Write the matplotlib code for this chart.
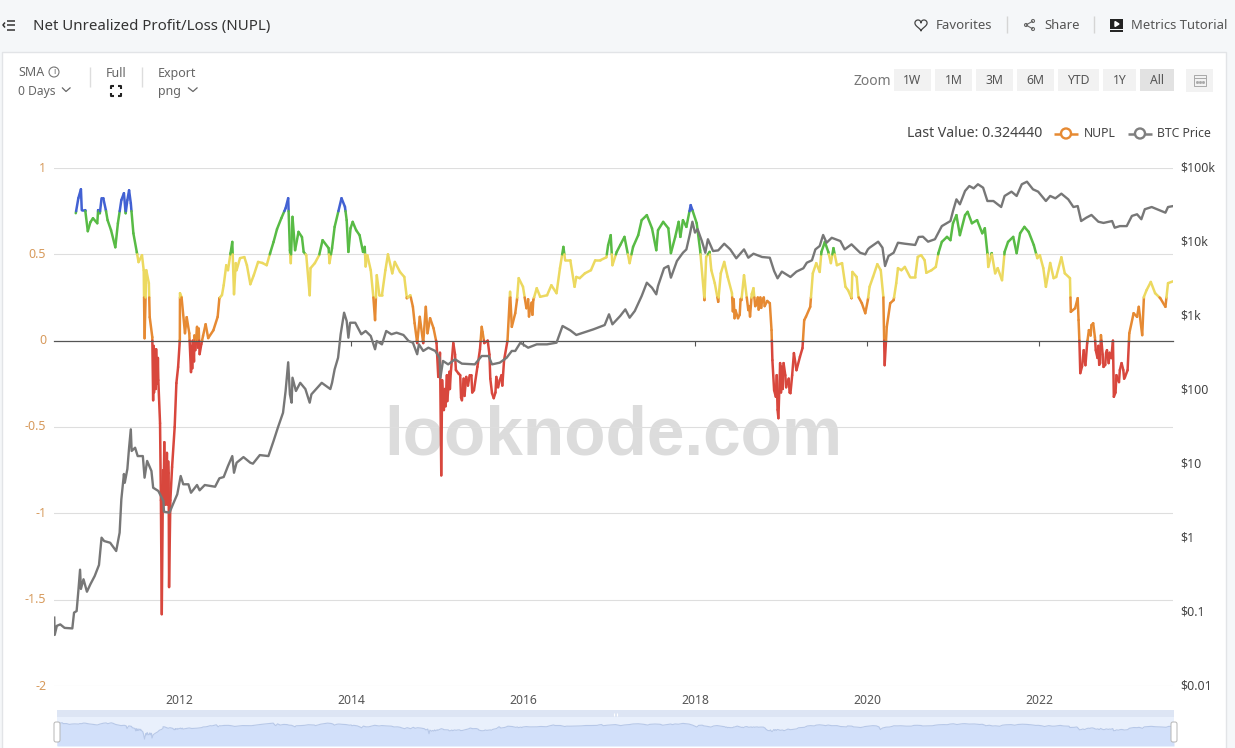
import numpy as np
import matplotlib
matplotlib.use("Agg")
import matplotlib.pyplot as plt
from matplotlib.collections import LineCollection
from matplotlib.patches import Rectangle, FancyBboxPatch, Circle
from matplotlib.transforms import ScaledTranslation

# ---------- data ----------
nupl_years = [2010.80,2010.83,2010.86,2010.87,2010.91,2010.94,2010.97,2011.00,2011.05,2011.06,2011.08,2011.10,2011.12,2011.15,2011.17,2011.21,2011.26,2011.29,2011.33,2011.36,2011.38,2011.40,2011.42,2011.44,2011.47,2011.51,2011.53,2011.57,2011.59,2011.60,2011.62,2011.65,2011.66,2011.69,2011.70,2011.72,2011.76,2011.78,2011.79,2011.80,2011.83,2011.85,2011.88,2011.885,2011.90,2011.92,2011.95,2011.97,2011.99,2012.01,2012.012,2012.03,2012.07,2012.09,2012.12,2012.14,2012.16,2012.19,2012.21,2012.24,2012.28,2012.31,2012.34,2012.40,2012.45,2012.47,2012.50,2012.52,2012.55,2012.57,2012.60,2012.62,2012.64,2012.66,2012.67,2012.71,2012.76,2012.79,2012.83,2012.87,2012.92,2012.97,2013.02,2013.06,2013.10,2013.14,2013.19,2013.24,2013.27,2013.29,2013.30,2013.32,2013.35,2013.39,2013.43,2013.45,2013.48,2013.52,2013.53,2013.58,2013.63,2013.67,2013.74,2013.75,2013.78,2013.81,2013.89,2013.93,2013.95,2013.97,2013.995,2014.02,2014.06,2014.10,2014.14,2014.16,2014.17,2014.19,2014.23,2014.26,2014.28,2014.30,2014.33,2014.36,2014.40,2014.43,2014.48,2014.51,2014.57,2014.62,2014.65,2014.69,2014.72,2014.74,2014.77,2014.80,2014.84,2014.87,2014.89,2014.92,2014.96,2014.995,2015.015,2015.035,2015.05,2015.06,2015.08,2015.13,2015.16,2015.19,2015.25,2015.29,2015.34,2015.38,2015.43,2015.47,2015.52,2015.55,2015.59,2015.64,2015.66,2015.69,2015.73,2015.78,2015.82,2015.85,2015.87,2015.91,2015.93,2015.95,2016.00,2016.04,2016.08,2016.12,2016.16,2016.20,2016.28,2016.33,2016.39,2016.43,2016.47,2016.49,2016.55,2016.60,2016.62,2016.66,2016.72,2016.79,2016.84,2016.90,2016.97,2016.99,2017.02,2017.04,2017.09,2017.13,2017.18,2017.24,2017.28,2017.34,2017.38,2017.44,2017.50,2017.55,2017.57,2017.63,2017.69,2017.72,2017.77,2017.81,2017.83,2017.86,2017.90,2017.95,2017.97,2018.02,2018.06,2018.11,2018.13,2018.17,2018.19,2018.23,2018.27,2018.30,2018.34,2018.38,2018.43,2018.47,2018.50,2018.54,2018.57,2018.62,2018.68,2018.71,2018.78,2018.87,2018.89,2018.90,2018.92,2018.94,2018.97,2018.99,2019.03,2019.07,2019.11,2019.15,2019.18,2019.22,2019.25,2019.27,2019.29,2019.34,2019.37,2019.41,2019.45,2019.47,2019.51,2019.55,2019.58,2019.61,2019.65,2019.71,2019.75,2019.78,2019.82,2019.83,2019.88,2019.90,2019.94,2019.98,2020.01,2020.03,2020.07,2020.12,2020.16,2020.19,2020.205,2020.23,2020.27,2020.31,2020.34,2020.36,2020.40,2020.44,2020.50,2020.56,2020.59,2020.63,2020.67,2020.69,2020.75,2020.80,2020.83,2020.87,2020.93,2020.97,2021.00,2021.04,2021.08,2021.14,2021.17,2021.22,2021.28,2021.34,2021.37,2021.40,2021.41,2021.45,2021.49,2021.52,2021.57,2021.60,2021.64,2021.70,2021.74,2021.78,2021.83,2021.88,2021.94,2021.98,2022.01,2022.05,2022.08,2022.13,2022.17,2022.20,2022.26,2022.30,2022.36,2022.37,2022.42,2022.45,2022.46,2022.47,2022.48,2022.52,2022.54,2022.56,2022.58,2022.63,2022.66,2022.71,2022.72,2022.75,2022.79,2022.84,2022.86,2022.87,2022.92,2022.96,2023.00,2023.03,2023.05,2023.10,2023.14,2023.16,2023.20,2023.22,2023.25,2023.30,2023.35,2023.41,2023.47,2023.50,2023.56]
nupl_values = [.738,.825,.877,.756,.756,.634,.686,.709,.680,.756,.738,.825,.825,.756,.698,.640,.541,.680,.814,.854,.738,.814,.871,.796,.622,.512,.455,.495,.408,.014,.408,.333,.136,.020,-.345,-.246,-.229,-.478,-.924,-1.584,-.588,-.883,-.767,-1.427,-.924,-.732,-.501,-.246,-.153,.003,.275,.252,.043,.136,.043,-.182,0,-.055,.08,-.078,.028,.095,.015,.06,.138,.246,.264,.321,.437,.408,.507,.572,.269,.449,.408,.478,.484,.437,.327,.379,.456,.45,.437,.507,.572,.646,.709,.767,.825,.524,.449,.717,.524,.63,.60,.514,.495,.263,.42,.449,.495,.582,.536,.449,.536,.659,.825,.775,.698,.514,.651,.688,.64,.611,.514,.543,.43,.495,.408,.254,.119,.379,.263,.263,.408,.50,.39,.456,.398,.369,.246,.263,.196,.101,-.014,.138,-.014,.196,.043,.13,.072,-.014,-.21,-.07,-.78,-.229,-.402,-.287,-.19,-.014,-.19,-.345,-.21,-.2,-.287,-.152,.08,-.014,0,-.304,-.333,-.21,-.229,-.113,0,.283,.08,.159,.235,.362,.312,.188,.177,.235,.304,.254,.263,.321,.275,.42,.543,.466,.466,.312,.369,.362,.39,.408,.466,.466,.483,.553,.611,.437,.514,.553,.601,.449,.543,.611,.698,.727,.651,.524,.64,.688,.651,.507,.601,.688,.601,.698,.659,.785,.756,.68,.524,.235,.485,.514,.408,.333,.225,.39,.456,.369,.275,.177,.13,.235,.379,.177,.304,.206,.235,.217,.061,-.113,-.287,-.325,-.449,-.13,-.13,-.246,-.304,-.072,-.171,-.094,-.043,.119,.138,.196,.39,.449,.398,.514,.572,.514,.449,.536,.437,.449,.312,.292,.246,.398,.369,.254,.217,.159,.235,.312,.369,.443,.408,.254,-.142,.08,.217,.235,.333,.42,.408,.427,.369,.369,.485,.495,.466,.393,.408,.427,.507,.572,.601,.582,.68,.727,.611,.727,.746,.68,.698,.622,.651,.507,.427,.507,.39,.42,.35,.514,.572,.601,.507,.622,.659,.63,.553,.478,.495,.42,.312,.45,.362,.369,.483,.39,.362,.167,.188,.246,.119,-.007,-.188,-.055,-.142,-.014,.061,.101,-.055,-.13,.032,-.152,-.055,-.101,0,-.325,-.229,-.13,-.21,-.171,.043,.159,.138,.196,.032,.254,.292,.34,.275,.246,.196,.333,.344]

# further readings inside the dense, jittery stretches of the NUPL line
nupl_detail_years = [2011.705,2011.71,2011.715,2011.73,2011.735,2011.75,2011.755,2011.815,2011.82,2011.84,2011.86,2011.865,2011.875,2012.15,2012.155,2012.175,2012.18,2012.22,2012.23,2012.26,2015.09,2015.10,2015.115,2015.12,2015.145,2015.15,2015.21,2015.22,2015.27,2015.28,2015.31,2015.32,2015.36,2015.40,2015.41,2015.50,2015.53,2015.61,2015.62,2015.68,2015.71,2015.75,2015.76,2016.06,2016.07,2016.10,2016.11,2018.44,2018.45,2018.46,2018.52,2018.53,2018.63,2018.64,2018.66,2018.70,2018.73,2018.74,2018.76,2018.77,2018.80,2018.81,2018.84,2018.95,2018.96,2019.00,2019.01,2019.02,2019.05,2019.06,2019.09,2019.10,2019.13,2022.50,2022.53,2022.60,2022.61,2022.65,2022.68,2022.69,2022.70,2022.74,2022.77,2022.78,2022.81,2022.82,2022.89,2022.90,2022.93,2022.94,2022.98,2022.99]
nupl_detail_values = [-.03,-.30,-.05,-.28,-.05,-.25,-.10,-.75,-.95,-.95,-.65,-.95,-.70,-.03,-.16,-.12,.03,-.04,.07,-.02,-.28,-.38,-.20,-.35,-.18,-.28,-.08,-.17,-.20,-.33,-.22,-.32,-.26,-.20,-.30,-.05,.05,-.08,-.22,-.30,-.27,-.20,-.26,.24,.14,.22,.15,.17,.24,.13,.15,.24,.20,.14,.27,.20,.25,.18,.25,.19,.25,.20,.23,-.20,-.40,-.30,-.15,-.28,-.20,-.27,-.22,-.30,-.20,-.15,-.12,.03,.09,.02,-.10,-.03,-.14,-.08,-.14,-.07,-.13,-.07,-.30,-.20,-.24,-.17,-.17,-.22]

btc_years = [2010.55,2010.555,2010.58,2010.62,2010.67,2010.76,2010.78,2010.81,2010.83,2010.85,2010.86,2010.89,2010.93,2010.97,2011.02,2011.07,2011.10,2011.13,2011.20,2011.27,2011.31,2011.33,2011.36,2011.37,2011.40,2011.42,2011.44,2011.45,2011.49,2011.52,2011.58,2011.60,2011.63,2011.68,2011.70,2011.76,2011.82,2011.825,2011.89,2011.93,2011.98,2012.02,2012.05,2012.11,2012.14,2012.21,2012.24,2012.30,2012.42,2012.47,2012.52,2012.57,2012.62,2012.64,2012.67,2012.75,2012.83,2012.86,2012.94,2013.04,2013.10,2013.15,2013.21,2013.24,2013.27,2013.29,2013.31,2013.32,2013.36,2013.41,2013.47,2013.52,2013.54,2013.66,2013.76,2013.78,2013.81,2013.85,2013.88,2013.92,2013.95,2013.97,2013.99,2014.05,2014.12,2014.17,2014.23,2014.28,2014.30,2014.36,2014.41,2014.47,2014.53,2014.61,2014.67,2014.72,2014.77,2014.79,2014.84,2014.90,2014.98,2015.03,2015.04,2015.07,2015.13,2015.21,2015.29,2015.44,2015.52,2015.60,2015.64,2015.73,2015.81,2015.87,2015.91,2015.97,2016.06,2016.16,2016.28,2016.39,2016.46,2016.55,2016.62,2016.70,2016.82,2016.95,2017.00,2017.04,2017.13,2017.19,2017.24,2017.30,2017.38,2017.44,2017.50,2017.55,2017.57,2017.64,2017.69,2017.72,2017.79,2017.86,2017.90,2017.94,2017.97,2018.00,2018.03,2018.08,2018.12,2018.15,2018.21,2018.27,2018.34,2018.41,2018.48,2018.57,2018.62,2018.68,2018.78,2018.87,2018.92,2018.96,2019.01,2019.11,2019.18,2019.26,2019.30,2019.36,2019.40,2019.45,2019.49,2019.53,2019.59,2019.69,2019.74,2019.82,2019.92,2019.98,2020.01,2020.03,2020.13,2020.18,2020.21,2020.25,2020.31,2020.36,2020.44,2020.56,2020.60,2020.65,2020.71,2020.79,2020.87,2020.97,2021.00,2021.04,2021.08,2021.14,2021.19,2021.24,2021.29,2021.35,2021.40,2021.47,2021.56,2021.60,2021.68,2021.74,2021.80,2021.86,2021.93,2021.99,2022.08,2022.13,2022.19,2022.26,2022.34,2022.40,2022.45,2022.49,2022.55,2022.61,2022.69,2022.75,2022.85,2022.88,2022.94,2023.02,2023.08,2023.14,2023.19,2023.23,2023.31,2023.47,2023.50,2023.56]
btc_prices = [.084,.049,.065,.068,.061,.060,.098,.103,.192,.373,.205,.277,.188,.237,.306,.432,1.01,.91,.863,.667,1.18,3.33,7.33,5.58,8.56,16.6,29.4,15,16.6,12.8,12.8,6.53,11,8.04,4.78,4.32,3.16,2.27,2.2,2.85,3.89,6.88,5.32,5.32,4.09,5.2,4.41,5.2,4.93,6.41,6.67,9.4,12.8,7.62,10.4,12.4,10.4,10.1,13.2,12.8,20.5,31,49.3,97,237,87.4,67.4,146.6,97,125,103,67.4,87.4,125,103,125,190,273,566,1108,855,509,811,811,566,627,537,355,459,414,627,566,595,554,459,436,304,414,337,373,337,273,147,247,222,260,227,222,288,288,222,234,273,337,337,436,373,414,414,436,733,640,554,595,661,755,1054,772,1000,1230,948,1169,1862,2818,2410,1963,2541,4416,4742,3296,5537,7162,7943,12700,18800,13400,14900,10300,7162,10900,7550,7700,9480,7943,6025,7943,6130,6950,6270,6130,4055,3230,3980,3365,3980,4416,5250,5660,7943,8830,12440,9780,11400,10300,7943,9300,7162,6800,7943,8370,10100,8370,4740,6470,7160,9780,9480,9120,11700,11800,10100,10900,16400,19200,26200,37700,32300,48900,57100,53100,60300,54200,35800,35800,29700,41900,47900,41900,60300,65300,51500,47900,35800,41900,38900,45000,37700,29700,30600,19200,21300,23200,18800,18100,19200,15600,16400,16400,22500,23700,20300,27700,29700,24900,29700,30600]

nupl_ticks = [1, .5, 0, -.5, -1, -1.5, -2]
nupl_tick_labels = ["1", "0.5", "0", "-0.5", "-1", "-1.5", "-2"]
btc_ticks = [1e5, 1e4, 1e3, 100, 10, 1, .1, .01]
btc_tick_labels = ["$100k", "$10k", "$1k", "$100", "$10", "$1", "$0.1", "$0.01"]
year_ticks = [2012, 2014, 2016, 2018, 2020, 2022]
zoom_buttons = ["1W", "1M", "3M", "6M", "YTD", "1Y", "All"]

band_edges = [-9, 0, .25, .5, .75, 9]
band_colors = ["#d8473d", "#e68a33", "#ecd960", "#58bb45", "#4261d3"]

plt.rcParams['font.family'] = ['Noto Sans', 'DejaVu Sans']
W, H = 1235, 748
fig = plt.figure(figsize=(W / 100, H / 100), dpi=100, facecolor="#f5f7f9")

def px_axes(l, t, r, b, **kw):
    return fig.add_axes([l / W, 1 - b / H, (r - l) / W, (b - t) / H], **kw)

# ---------- page furniture, in pixel coordinates ----------
ui = fig.add_axes([0, 0, 1, 1], zorder=0)
ui.set_xlim(0, W); ui.set_ylim(H, 0); ui.axis("off")
ui.add_patch(Rectangle((2, 52), 1224, 700, fc="white", ec="#e2e4e7", lw=1))

def T(x, y, s, size=9.4, color="#555555", ha="left", **kw):
    ui.text(x, y + .8, s, fontsize=size, color=color, ha=ha, va="center", **kw)

def L(xs, ys, color="#555555", lw=1, **kw):
    ui.plot(xs, ys, color=color, lw=lw, solid_capstyle="butt", **kw)

T(33, 25.5, "Net Unrealized Profit/Loss (NUPL)", 10.8, "#333333")
L([7, 15], [20.5, 20.5], "#333333", 1.1); L([7, 15], [25, 25], "#333333", 1.1); L([7, 15], [29.5, 29.5], "#333333", 1.1)
L([5, 3, 5], [22.5, 25, 27.5], "#333333", 1.1)
T(936, 25, "Favorites", 9.5, "#555555")
T(1044, 25, "Share", 9.4, "#555555")
T(1131, 25, "Metrics Tutorial", 9.4, "#555555")
L([1007, 1007], [16, 33], "#d5d5d5"); L([1094, 1094], [16, 33], "#d5d5d5")
# heart icon
t_h = np.linspace(0, 2 * np.pi, 60)
ui.plot(921 + .38 * 16 * np.sin(t_h) ** 3,
        24.5 - .38 * (13 * np.cos(t_h) - 5 * np.cos(2 * t_h) - 2 * np.cos(3 * t_h) - np.cos(4 * t_h)),
        color="#444444", lw=.9)
# share icon
L([1033, 1026, 1033], [21, 25, 29], "#666666", .8)
for sx, sy in [(1033, 21), (1026, 25), (1033, 29)]:
    ui.add_patch(Circle((sx, sy), 1.5, fc="white", ec="#666666", lw=.8))
# tutorial icon
ui.add_patch(Rectangle((1110, 19), 13, 10, fc="#222222", ec="none"))
L([1110, 1123], [31, 31], "#222222", 1.4)
ui.fill([1115, 1119, 1115], [21.5, 24, 26.5], color="white")

T(18, 72, "SMA", 9, "#666666")
ui.add_patch(Circle((54, 72), 5, fc="none", ec="#777777", lw=.8))
T(54, 71, "i", 6, "#666666", ha="center")
T(18, 90.5, "0 Days", 8.7, "#666666")
L([62, 66, 70.5], [87.5, 91.5, 87.5], "#666666", .9)
L([90, 90], [67, 87], "#dddddd"); L([141.5, 141.5], [67, 87], "#dddddd")
T(106, 72.5, "Full", 9, "#666666")
for x0, x1, y0, y1 in [(111, 114, 86, 89), (121, 118, 86, 89), (111, 114, 96, 93), (121, 118, 96, 93)]:
    L([x0, x0, x1], [y1, y0, y0], "#222222", 1.5)
T(158, 72.5, "Export", 9, "#666666")
T(158, 90.5, "png", 9, "#666666")
L([188, 193, 197.5], [87.5, 91.5, 87.5], "#666666", .9)

T(854, 81, "Zoom", 10, "#777777")
btn_edges = [(894, 931), (935, 972), (976, 1013), (1017, 1054), (1058, 1099), (1103, 1136), (1140, 1174)]
for (x0, x1), lab in zip(btn_edges, zoom_buttons):
    active = lab == "All"
    ui.add_patch(Rectangle((x0, 69), x1 - x0, 22, fc="#e2e2e2" if active else "#f2f2f2", ec="none"))
    T((x0 + x1) / 2, 80, lab, 8.8, "#555555", ha="center")
ui.add_patch(Rectangle((1186, 69), 27, 23, fc="#f2f2f2", ec="none"))
ui.add_patch(Rectangle((1194, 75), 12, 11, fc="none", ec="#a8a8a8", lw=.7))
L([1194, 1206], [78, 78], "#a8a8a8", .7)
ui.plot([1197, 1200, 1203], [82, 82, 82], ls="none", marker="s", ms=1, color="#a8a8a8")

T(907, 133, "Last Value: 0.324440", 10.2, "#444444")
L([1054, 1078], [133.5, 133.5], band_colors[1], 1.8)
ui.add_patch(Circle((1066, 133.5), 5, fc="white", ec=band_colors[1], lw=1.7, zorder=5))
T(1084, 133, "NUPL", 8.8, "#444444")
L([1128, 1152], [133.5, 133.5], "#7f7f7f", 1.8)
ui.add_patch(Circle((1140, 133.5), 5, fc="white", ec="#7f7f7f", lw=1.7, zorder=5))
T(1157, 133, "BTC Price", 8.8, "#444444")

ui.text(613.5, 436, "looknode.com", fontsize=48.7, color="#dcdcdc", fontweight="bold",
        family="Liberation Sans", ha="center", va="center")

# ---------- main chart ----------
def split_at_bands(x, y, edges):
    xs, ys = [x[0]], [y[0]]
    for x0, y0, x1, y1 in zip(x[:-1], y[:-1], x[1:], y[1:]):
        hits = [e for e in edges if min(y0, y1) < e < max(y0, y1)]
        hits.sort(reverse=y1 < y0)
        for e in hits:
            xs.append(x0 + (e - y0) / (y1 - y0) * (x1 - x0)); ys.append(e)
        xs.append(x1); ys.append(y1)
    return np.array(xs), np.array(ys)

all_years = np.array(nupl_years + nupl_detail_years)
all_values = np.array(nupl_values + nupl_detail_values)
order = np.argsort(all_years, kind="stable")
all_years, all_values = all_years[order], all_values[order]

xs, ys = split_at_bands(all_years, all_values, band_edges[1:-1])
segs = np.stack([np.column_stack([xs[:-1], ys[:-1]]), np.column_stack([xs[1:], ys[1:]])], axis=1)
band_idx = np.digitize((ys[:-1] + ys[1:]) / 2, band_edges) - 1
seg_colors = [band_colors[i] for i in band_idx]

ax = px_axes(54, 168, 1173, 686, zorder=2)
ax.patch.set_alpha(0)
ax.set_xlim(2010.547, 2023.558)
ax.set_ylim(-2, 1)
ax.add_collection(LineCollection(segs, colors=seg_colors, linewidths=1.8, capstyle="round", joinstyle="round"))
ax.set_yticks(nupl_ticks, nupl_tick_labels)
ax.tick_params(axis="y", length=0, pad=5.5, labelsize=9, labelcolor="#d79a5c")
for v in nupl_ticks:
    if v != 0:
        ax.axhline(v, color="#dedede", lw=.8, zorder=0)
for s in ("top", "left", "right"):
    ax.spines[s].set_visible(False)
ax.spines["bottom"].set_position(("data", 0))
ax.spines["bottom"].set_color("#555555")
ax.spines["bottom"].set_linewidth(.9)
ax.set_xticks(year_ticks, [str(y) for y in year_ticks])
ax.tick_params(axis="x", length=3.5, width=.8, color="#555555", pad=251, labelsize=8.8, labelcolor="#555555")

ax2 = ax.twinx()
ax2.set_yscale("log")
ax2.set_ylim(.01, 1e5)
ax2.plot(btc_years, btc_prices, color="#777777", lw=1.7, solid_joinstyle="round")
ax2.set_yticks(btc_ticks, btc_tick_labels)
ax2.minorticks_off()
ax2.tick_params(axis="y", length=0, pad=5.5, labelsize=8.9, labelcolor="#444444")
for s in ax2.spines.values():
    s.set_visible(False)
lift = ScaledTranslation(0, 1.5 / 100, fig.dpi_scale_trans)
for lab in list(ax.get_yticklabels()) + list(ax2.get_yticklabels()):
    lab.set_transform(lab.get_transform() + lift)

# ---------- range navigator ----------
ui.add_patch(Rectangle((57, 710), 1117, 7, fc="#dde5f4", ec="none"))
nav = px_axes(57, 717, 1174, 746, zorder=2)
nav.set_facecolor("#e9f0fc")
nav.set_xlim(all_years[0], all_years[-1])
nav.set_ylim(-2.63, 1.75)
nav.fill_between(all_years, all_values, -2.63, color="#d2e0fa", lw=0)
nav.plot(all_years, all_values, color="#b7c8e8", lw=.8)
nav.set_xticks([]); nav.set_yticks([])
for s in nav.spines.values():
    s.set_visible(False)
for hx in (57, 1174):
    fig.add_artist(FancyBboxPatch((hx - 3, 722), 6, 20, boxstyle="round,pad=0,rounding_size=2",
                                  fc="white", ec="#b5b5b5", lw=.7, zorder=6, transform=ui.transData))
L([614, 614], [712.5, 715.5], "#ffffff", .8); L([617, 617], [712.5, 715.5], "#ffffff", .8)

fig.savefig("out.png", dpi=100, facecolor=fig.get_facecolor())
